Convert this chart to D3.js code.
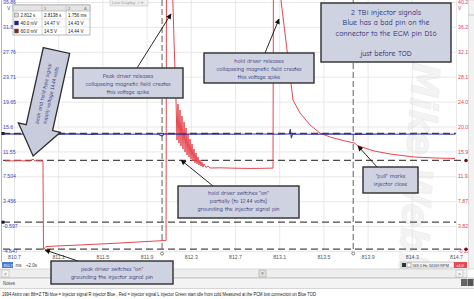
<!DOCTYPE html>
<html>
<head>
<meta charset="utf-8">
<script src="https://cdn.jsdelivr.net/npm/d3@7"></script>
<style>
  body { margin: 0; background: #fff; }
  svg { display: block; font-family: "Liberation Sans", Arial, sans-serif; }
</style>
</head>
<body>
<svg id="chart" width="474" height="299"></svg>
<script>
// ---- values ----
const timeTicks = [810.7, 811.1, 811.5, 811.9, 812.3, 812.7, 813.1, 813.5, 813.9, 814.3, 814.7];
const blueTicks = [35.86, 31.81, 27.76, 23.71, 19.65, 15.6, 11.55, 7.504, 3.456, -0.597, -4.647];
const blueTickLabels = ["35.86", "31.81", "27.76", "23.71", "19.65", "15.6", "11.55", "7.504", "3.456", "-0.597", "-4.647"];
const redTicks = [40.27, 36.22, 32.17, 28.12, 24.07, 20.02, 15.97, 11.92, 7.871, 3.821, -0.229];
const redTickLabels = ["40.27", "36.22", "32.17", "28.12", "24.07", "20.02", "15.97", "11.92", "7.871", "3.821", "-0.229"];

// red = left injector (green wire), time ms / volts
const redTrace = [
  [810.619, 14.41], [810.754, 14.45], [810.845, 14.40], [810.872, 14.70], [810.890, 14.43], [810.962, 14.41],
  [810.967, 0.02], [810.990, 0.50], [811.297, 0.75], [811.659, 1.07], [812.067, 1.48], [812.076, 1.50],
  [812.080, 45], [812.130, 45], [812.148, 34.09], [812.166, 24.33],
  [812.175, 17.83], [812.184, 23.68], [812.193, 17.34], [812.202, 22.71], [812.211, 16.85], [812.220, 21.73],
  [812.229, 16.36], [812.239, 20.75], [812.248, 15.87], [812.257, 19.78], [812.266, 15.38], [812.275, 18.80],
  [812.284, 15.06], [812.293, 17.99], [812.302, 14.74], [812.311, 17.18], [812.320, 14.41], [812.329, 16.36],
  [812.338, 14.09], [812.347, 15.71], [812.356, 13.92], [812.365, 15.06], [812.374, 13.76], [812.383, 14.57],
  [812.392, 13.60], [812.401, 14.25], [812.410, 13.43], [812.420, 13.92], [812.438, 13.35], [812.456, 13.60],
  [812.474, 13.27], [812.564, 13.30], [812.700, 13.24], [812.836, 13.20], [812.944, 13.22], [813.035, 13.25],
  [813.044, 13.25], [813.048, 45], [813.107, 45], [813.116, 40.6], [813.171, 32.46], [813.225, 24.33],
  [813.288, 22.22], [813.379, 20.27], [813.469, 18.96], [813.560, 18.31], [813.696, 17.66], [813.759, 17.42],
  [813.786, 17.30], [813.804, 16.95], [813.840, 16.72], [813.958, 16.04], [814.103, 15.55], [814.320, 15.06],
  [814.510, 14.90], [814.691, 14.82]
];

// blue = right injector, bad pin -> sits at supply voltage
const blueTrace = [
  [810.600, 14.40], [810.750, 14.36], [810.900, 14.42], [811.000, 14.38], [811.015, 14.95], [811.030, 14.37],
  [811.200, 14.40], [811.400, 14.33], [811.600, 14.39], [811.800, 14.35], [812.000, 14.38], [812.040, 14.05],
  [812.060, 14.40], [812.300, 14.36], [812.500, 14.41], [812.700, 14.35], [812.900, 14.38], [813.100, 14.34],
  [813.190, 14.40], [813.200, 15.20], [813.210, 13.70], [813.220, 14.38], [813.400, 14.35], [813.600, 14.40],
  [813.800, 14.33], [814.000, 14.37], [814.200, 14.34], [814.400, 14.38], [814.690, 14.35]
];

const blueRulers = [0.04, 14.47];
const redRulers = [0.06, 14.5];
const timeRulers = [812.04, 813.77];

const measureRows = [
  ["2.812 s", "2.8138 s", "1.756 ms"],
  ["40.0 mV", "14.47 V", "14.43 V"],
  ["60.0 mV", "14.5 V", "14.44 V"]
];
const notesText = "1994 Astro van 8th=Z TBi blue = injector signal R injector Blue , Red = injector signal L injector Green   start idle    from cold   Measured at the PCM  lost connection on Blue  TOD";

// ---- scales ----
const x = d3.scaleLinear().domain([810.7, 814.7]).range([14, 456]);
const yBlue = d3.scaleLinear().domain([-4.647, 35.86]).range([251, 2]);
const yRed = d3.scaleLinear().domain([-0.229, 40.27]).range([251, 2]);

const svg = d3.select("#chart");
svg.append("rect").attr("width", 474).attr("height", 299).attr("fill", "#fff");

const defs = svg.append("defs");
defs.append("clipPath").attr("id", "plotClip")
  .append("rect").attr("x", 2).attr("y", 0).attr("width", 454).attr("height", 262);
defs.append("marker").attr("id", "ah")
  .attr("viewBox", "0 0 10 10").attr("refX", 9).attr("refY", 5)
  .attr("markerWidth", 7).attr("markerHeight", 6).attr("orient", "auto")
  .append("path").attr("d", "M0,0 L10,5 L0,10 z").attr("fill", "#111");

// watermark, very faint
svg.append("text")
  .attr("transform", "translate(413,62) rotate(94)")
  .attr("font-family", "DejaVu Sans").attr("font-weight", "bold").attr("font-style", "italic")
  .attr("font-size", 38).attr("fill", "#f3f3f3").attr("stroke", "#ebebeb").attr("stroke-width", 0.5)
  .attr("textLength", 215).attr("lengthAdjust", "spacingAndGlyphs")
  .text("Mike Webb");

// grid
const grid = svg.append("g");
grid.append("g").attr("transform", "translate(2,0)")
  .call(d3.axisRight(yBlue).tickValues(blueTicks).tickSize(454).tickFormat(""))
  .call(g => g.select(".domain").remove())
  .call(g => g.selectAll("line").attr("stroke", "#e2e2e2").attr("stroke-width", 0.8));
grid.append("g")
  .call(d3.axisBottom(x).tickValues(timeTicks).tickSize(251).tickFormat(""))
  .call(g => g.select(".domain").remove())
  .call(g => g.selectAll("line").attr("stroke", "#e2e2e2").attr("stroke-width", 0.8));

// left border
svg.append("line").attr("x1", 1.5).attr("x2", 1.5).attr("y1", 0).attr("y2", 262)
  .attr("stroke", "#aab4dd").attr("stroke-width", 1);

// axis labels
const leftAxis = svg.append("g").attr("transform", "translate(2,0)")
  .call(d3.axisRight(yBlue).tickValues(blueTicks).tickSize(0).tickPadding(1)
    .tickFormat((d, i) => blueTickLabels[i]));
leftAxis.select(".domain").remove();
leftAxis.selectAll("text").attr("fill", "#3546c8").attr("font-size", 5.2)
  .attr("font-family", "Liberation Sans");
svg.append("text").attr("x", 7).attr("y", 10).attr("font-size", 5).attr("fill", "#3546c8").text("V");

const rightAxis = svg.append("g").attr("transform", "translate(456,0)")
  .call(d3.axisRight(yRed).tickValues(redTicks).tickSize(0).tickPadding(2)
    .tickFormat((d, i) => redTickLabels[i]));
rightAxis.select(".domain").remove();
rightAxis.selectAll("text").attr("fill", "#e0404a").attr("font-size", 5.2)
  .attr("font-family", "Liberation Sans");
svg.append("text").attr("x", 458).attr("y", 10).attr("font-size", 5).attr("fill", "#e0404a").text("V");

const bottomAxis = svg.append("g").attr("transform", "translate(0,255)")
  .call(d3.axisBottom(x).tickValues(timeTicks).tickSize(0).tickPadding(0)
    .tickFormat(d3.format(".1f")));
bottomAxis.select(".domain").remove();
bottomAxis.selectAll("text").attr("fill", "#555").attr("font-size", 5.2)
  .attr("font-family", "Liberation Sans");

// rulers
const rulers = svg.append("g");
blueRulers.forEach(v => {
  rulers.append("line").attr("x1", 3).attr("x2", 456).attr("y1", yBlue(v)).attr("y2", yBlue(v))
    .attr("stroke", "#4a4a4a").attr("stroke-width", 1.3).attr("stroke-dasharray", "7,4");
  rulers.append("rect").attr("x", 1.5).attr("y", yBlue(v) - 1.5).attr("width", 3).attr("height", 3).attr("fill", "#15153a");
});
redRulers.forEach(v => {
  rulers.append("line").attr("x1", 3).attr("x2", 466).attr("y1", yRed(v)).attr("y2", yRed(v))
    .attr("stroke", "#4a4a4a").attr("stroke-width", 1.3).attr("stroke-dasharray", "7,4");
  rulers.append("circle").attr("cx", 466).attr("cy", yRed(v)).attr("r", 1.8).attr("fill", "#6a1010");
});
timeRulers.forEach(t => {
  rulers.append("line").attr("x1", x(t)).attr("x2", x(t)).attr("y1", 0).attr("y2", 251)
    .attr("stroke", "#7a7a7a").attr("stroke-width", 1.2).attr("stroke-dasharray", "6,3");
  rulers.append("circle").attr("cx", x(t)).attr("cy", 253.5).attr("r", 1.5)
    .attr("fill", "#fff").attr("stroke", "#555").attr("stroke-width", 0.7);
});

// traces
const plot = svg.append("g").attr("clip-path", "url(#plotClip)");
plot.append("path").datum(redTrace)
  .attr("fill", "none").attr("stroke", "#e8464f").attr("stroke-width", 1)
  .attr("d", d3.line().x(d => x(d[0])).y(d => yRed(d[1])));
plot.append("path").datum(blueTrace)
  .attr("fill", "none").attr("stroke", "#1c1c96").attr("stroke-width", 1.1).attr("opacity", 0.85)
  .attr("d", d3.line().x(d => x(d[0])).y(d => yBlue(d[1])));

// measurement table
const tbl = svg.append("g");
tbl.append("rect").attr("x", 13).attr("y", 5).attr("width", 77).attr("height", 30)
  .attr("fill", "#fff").attr("stroke", "#999").attr("stroke-width", 0.7);
tbl.append("rect").attr("x", 13).attr("y", 5).attr("width", 77).attr("height", 6)
  .attr("fill", "#e4e4e4").attr("stroke", "#999").attr("stroke-width", 0.5);
[42, 66].forEach(cx => tbl.append("line").attr("x1", cx).attr("x2", cx).attr("y1", 5).attr("y2", 35)
  .attr("stroke", "#aaa").attr("stroke-width", 0.5));
[19, 27].forEach(cy => tbl.append("line").attr("x1", 13).attr("x2", 90).attr("y1", cy).attr("y2", cy)
  .attr("stroke", "#ccc").attr("stroke-width", 0.5));
["1", "2", "\u0394"].forEach((h, i) => tbl.append("text").attr("x", [44, 68, 84][i]).attr("y", 9.8)
  .attr("font-size", 4).attr("fill", "#666").text(h));
const iconFill = ["#d8d8d8", "#1c1c96", "#9a1c1c"];
measureRows.forEach((row, r) => {
  const cy = 15 + r * 8;
  tbl.append("rect").attr("x", 14.5).attr("y", cy - 2).attr("width", 4).attr("height", 4)
    .attr("fill", iconFill[r]).attr("stroke", "#555").attr("stroke-width", 0.4);
  row.forEach((cell, c) => tbl.append("text").attr("x", [20.5, 44, 68][c]).attr("y", cy + 1.6)
    .attr("font-size", 4.5).attr("fill", "#222").text(cell));
});

// "Line Display" button
svg.append("rect").attr("x", 110).attr("y", -2).attr("width", 38).attr("height", 8).attr("rx", 1)
  .attr("fill", "#eeeeee").attr("stroke", "#bbb").attr("stroke-width", 0.5);
svg.append("text").attr("x", 112).attr("y", 4).attr("font-size", 4.3).attr("fill", "#999").text("Line Display  \u2713 \u25BE");

// annotation boxes
const annFont = "'Comic Sans MS', 'Comic Neue', 'Liberation Sans', sans-serif";
function noteBox(bx, by, bw, bh, lines, ys, size) {
  const g = svg.append("g");
  g.append("rect").attr("x", bx).attr("y", by).attr("width", bw).attr("height", bh)
    .attr("fill", "#cfd2e0").attr("stroke", "#2e2e2e").attr("stroke-width", 1.4);
  lines.forEach((s, i) => g.append("text").attr("x", bx + bw / 2).attr("y", ys[i])
    .attr("text-anchor", "middle").attr("dominant-baseline", "central")
    .attr("font-family", annFont).attr("font-size", size).attr("fill", "#1f2b76").text(s));
}
function arrow(x1, y1, x2, y2) {
  svg.append("line").attr("x1", x1).attr("y1", y1).attr("x2", x2).attr("y2", y2)
    .attr("stroke", "#111").attr("stroke-width", 0.9).attr("marker-end", "url(#ah)");
}

arrow(137, 68, 171, 14);
noteBox(73, 68, 110, 30, ["Peak driver releases", "collapseing magnetic field creates", "this voltage spike"], [75.5, 83.5, 91.5], 5.9);

arrow(265, 53, 279, 19);
noteBox(204, 53, 110, 30, ["hold driver releases", "collapseing magnetic field creates", "this voltage spike"], [61, 69, 77], 5.9);

noteBox(321, 3, 130, 59, ["2 TBi injector signals", "Blue has a bad pin on the", "connector to the ECM pin D16", "just before TOD"], [12, 22.5, 33, 53], 7.8);

arrow(213, 186, 181, 160);
noteBox(178, 186, 121, 32, ["hold driver switches  \"on\"", "partially (to 12.44 volts)", "grounding the injector signal pin"], [192.5, 200.5, 208.5], 5.9);

arrow(377, 167, 358, 146);
noteBox(363, 167, 55, 26, ["\"pull\" marks", "injector close"], [176, 184], 5.9);

// block arrow: supply voltage note
const blk = svg.append("g").attr("transform", "translate(56.5,50.5) rotate(12.5)");
blk.append("path").attr("d", "M-13.5,0 L13.5,0 L13.5,79 L21.5,79 L0,108 L-21.5,79 L-13.5,79 Z")
  .attr("fill", "#c9ccdc").attr("stroke", "#2e2e2e").attr("stroke-width", 1.3);
["peak and hold type signal", "supply voltage 14.44 volts"].forEach((s, i) => {
  blk.append("text").attr("transform", `translate(${i === 0 ? -3.8 : 3.8},45) rotate(-90)`)
    .attr("text-anchor", "middle").attr("dominant-baseline", "central")
    .attr("font-family", annFont).attr("font-size", 5.6).attr("fill", "#1f2b76").text(s);
});

// bottom UI strip
const ui = svg.append("g");
ui.append("rect").attr("x", 2).attr("y", 262).attr("width", 11).attr("height", 6).attr("fill", "#4a78d4");
ui.append("text").attr("x", 3.5).attr("y", 266.5).attr("font-size", 3.6).attr("fill", "#fff").text("810.7");
ui.append("text").attr("x", 15.5).attr("y", 266.8).attr("font-size", 4.5).attr("fill", "#333").text("ms");
ui.append("text").attr("x", 26).attr("y", 266.8).attr("font-size", 4.5).attr("fill", "#333").text("\u00F72.0s");

ui.append("rect").attr("x", 401).attr("y", 262).attr("width", 53).attr("height", 6)
  .attr("fill", "#f4f4f4").attr("stroke", "#999").attr("stroke-width", 0.5);
ui.append("rect").attr("x", 402).attr("y", 263).attr("width", 4).attr("height", 4).attr("fill", "#333");
ui.append("rect").attr("x", 407).attr("y", 263).attr("width", 4).attr("height", 4)
  .attr("fill", "#fff").attr("stroke", "#555").attr("stroke-width", 0.4);
ui.append("text").attr("x", 412.5).attr("y", 266.6).attr("font-size", 3.8).attr("fill", "#333").text("569.5 Hz  34169 RPM");
ui.append("rect").attr("x", 454).attr("y", 262).attr("width", 13).attr("height", 6).attr("fill", "#e8484f");
ui.append("text").attr("x", 456.5).attr("y", 266.6).attr("font-size", 3.8).attr("fill", "#fff").text("x1.0");

// horizontal scrollbar
ui.append("rect").attr("x", 0).attr("y", 269).attr("width", 467).attr("height", 9)
  .attr("fill", "#eeeeee").attr("stroke", "#c8c8c8").attr("stroke-width", 0.6);
ui.append("rect").attr("x", 2).attr("y", 270).attr("width", 7).attr("height", 7)
  .attr("fill", "#f7f7f7").attr("stroke", "#aaa").attr("stroke-width", 0.5);
ui.append("text").attr("x", 5.5).attr("y", 275.5).attr("text-anchor", "middle").attr("font-size", 5).attr("fill", "#555").text("<");
ui.append("rect").attr("x", 456).attr("y", 270).attr("width", 7).attr("height", 7)
  .attr("fill", "#f7f7f7").attr("stroke", "#aaa").attr("stroke-width", 0.5);
ui.append("text").attr("x", 459.5).attr("y", 275.5).attr("text-anchor", "middle").attr("font-size", 5).attr("fill", "#555").text(">");
ui.append("rect").attr("x", 259).attr("y", 270).attr("width", 7).attr("height", 7)
  .attr("fill", "#e2e2dc").attr("stroke", "#999").attr("stroke-width", 0.5);
ui.append("text").attr("x", 262.5).attr("y", 275.3).attr("text-anchor", "middle").attr("font-size", 4.5).attr("fill", "#777").text("\u2261");

// right scroll column
ui.append("rect").attr("x", 468.5).attr("y", 0).attr("width", 6).attr("height", 269)
  .attr("fill", "#f2f2f2").attr("stroke", "#c8c8c8").attr("stroke-width", 0.6);
ui.append("line").attr("x1", 468.5).attr("x2", 474).attr("y1", 15).attr("y2", 15).attr("stroke", "#aaa").attr("stroke-width", 0.6);

// notes panel
ui.append("rect").attr("x", 0).attr("y", 278).attr("width", 474).attr("height", 10).attr("fill", "#f3f3f3");
ui.append("line").attr("x1", 0).attr("x2", 474).attr("y1", 278).attr("y2", 278).attr("stroke", "#aaa").attr("stroke-width", 0.6);
ui.append("line").attr("x1", 0).attr("x2", 474).attr("y1", 288.5).attr("y2", 288.5).attr("stroke", "#bbb").attr("stroke-width", 0.6);
ui.append("text").attr("x", 3).attr("y", 285).attr("font-size", 4.6).attr("fill", "#444").text("Notes");
ui.append("rect").attr("x", 461).attr("y", 279).attr("width", 6).attr("height", 7).attr("fill", "#666");
ui.append("rect").attr("x", 467.5).attr("y", 279).attr("width", 6).attr("height", 7).attr("fill", "#555");
ui.append("text").attr("x", 2).attr("y", 295.5).attr("font-size", 4.6).attr("fill", "#222")
  .attr("textLength", 314).attr("lengthAdjust", "spacingAndGlyphs").text(notesText);

// bottom-left note overlaps the scrollbar, so it goes last
arrow(78, 261, 45, 250);
noteBox(51, 261, 122, 23, ["peak driver switches  \"on\"", "grounding the injector signal pin"], [268.5, 276.5], 5.9);
</script>
</body>
</html>
